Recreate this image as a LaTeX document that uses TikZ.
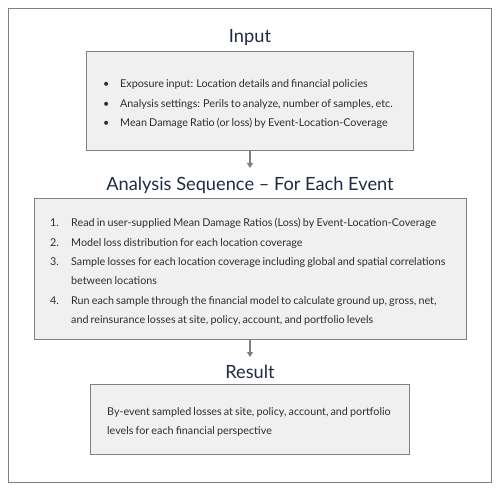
\documentclass[tikz,border=0pt]{standalone}
\usepackage{fontspec}
\setmainfont{Lato}
\usetikzlibrary{arrows.meta}
\definecolor{titlec}{HTML}{1F2A44}
\definecolor{textc}{HTML}{2E2E2E}
\definecolor{boxfill}{HTML}{F0F0F0}
\definecolor{linec}{HTML}{7F7F7F}
\newcommand{\bodyfnt}{\fontsize{10.8}{12}\selectfont\spaceskip=0.2em plus 0.05em\relax}
\begin{document}
\begin{tikzpicture}[x=1bp,y=-1bp,
  frame/.style={draw=linec,line width=1bp},
  box/.style={draw=linec,fill=boxfill,line width=1bp},
  ttl/.style={text=titlec,font=\fontsize{18.3}{21}\selectfont,inner sep=0pt},
  txt/.style={text=textc,font=\bodyfnt,inner sep=0pt,anchor=base west},
  arr/.style={draw=linec,line width=1.2bp,-{Triangle[width=6bp,length=5bp]}}]
\useasboundingbox (0,0) rectangle (500,491);
\draw[frame] (8,9) rectangle (491,482);
% Input
\node[ttl] (t1) at (250,38) {Input};
\path[box] (86,52) rectangle (413,151);
\coordinate (b1s) at (250,151);
\node[txt] (i1b) at (103,88) {•};
\node[txt] (i1) at (120,88) {Exposure input: Location details and financial policies};
\node[txt] (i2b) at (103,107.5) {•};
\node[txt] (i2) at (120,107.5) {Analysis settings: Perils to analyze, number of samples, etc.};
\node[txt] (i3b) at (103,127) {•};
\node[txt] (i3) at (120,127) {Mean Damage Ratio (or loss) by Event-Location-Coverage};
\coordinate (a1e) at (250,168);
\draw[arr] (b1s) -- (a1e);
% Analysis
\node[ttl] (t2) at (250,185) {Analysis Sequence – For Each Event};
\path[box] (34,198) rectangle (466,339);
\coordinate (b2s) at (250,339);
\node[txt] (n1) at (50,226.5) {1.};
\node[txt] (s1) at (71,226.5) {Read in user-supplied Mean Damage Ratios (Loss) by Event-Location-Coverage};
\node[txt] (n2) at (50,246) {2.};
\node[txt] (s2) at (71,246) {Model loss distribution for each location coverage};
\node[txt] (n3) at (50,265) {3.};
\node[txt] (s3) at (71,265) {Sample losses for each location coverage including global and spatial correlations};
\node[txt] (s3b) at (71,284.5) {between locations};
\node[txt] (n4) at (50,304) {4.};
\node[txt] (s4) at (71,304) {Run each sample through the financial model to calculate ground up, gross, net,};
\node[txt] (s4b) at (71,323) {and reinsurance losses at site, policy, account, and portfolio levels};
\coordinate (a2e) at (250,357);
\draw[arr] (b2s) -- (a2e);
% Result
\node[ttl] (t3) at (250,372) {Result};
\path[box] (90,384) rectangle (409,454);
\node[txt] (r1) at (107,415.5) {By-event sampled losses at site, policy, account, and portfolio};
\node[txt] (r2) at (107,434.5) {levels for each financial perspective};
\end{tikzpicture}
\end{document}
